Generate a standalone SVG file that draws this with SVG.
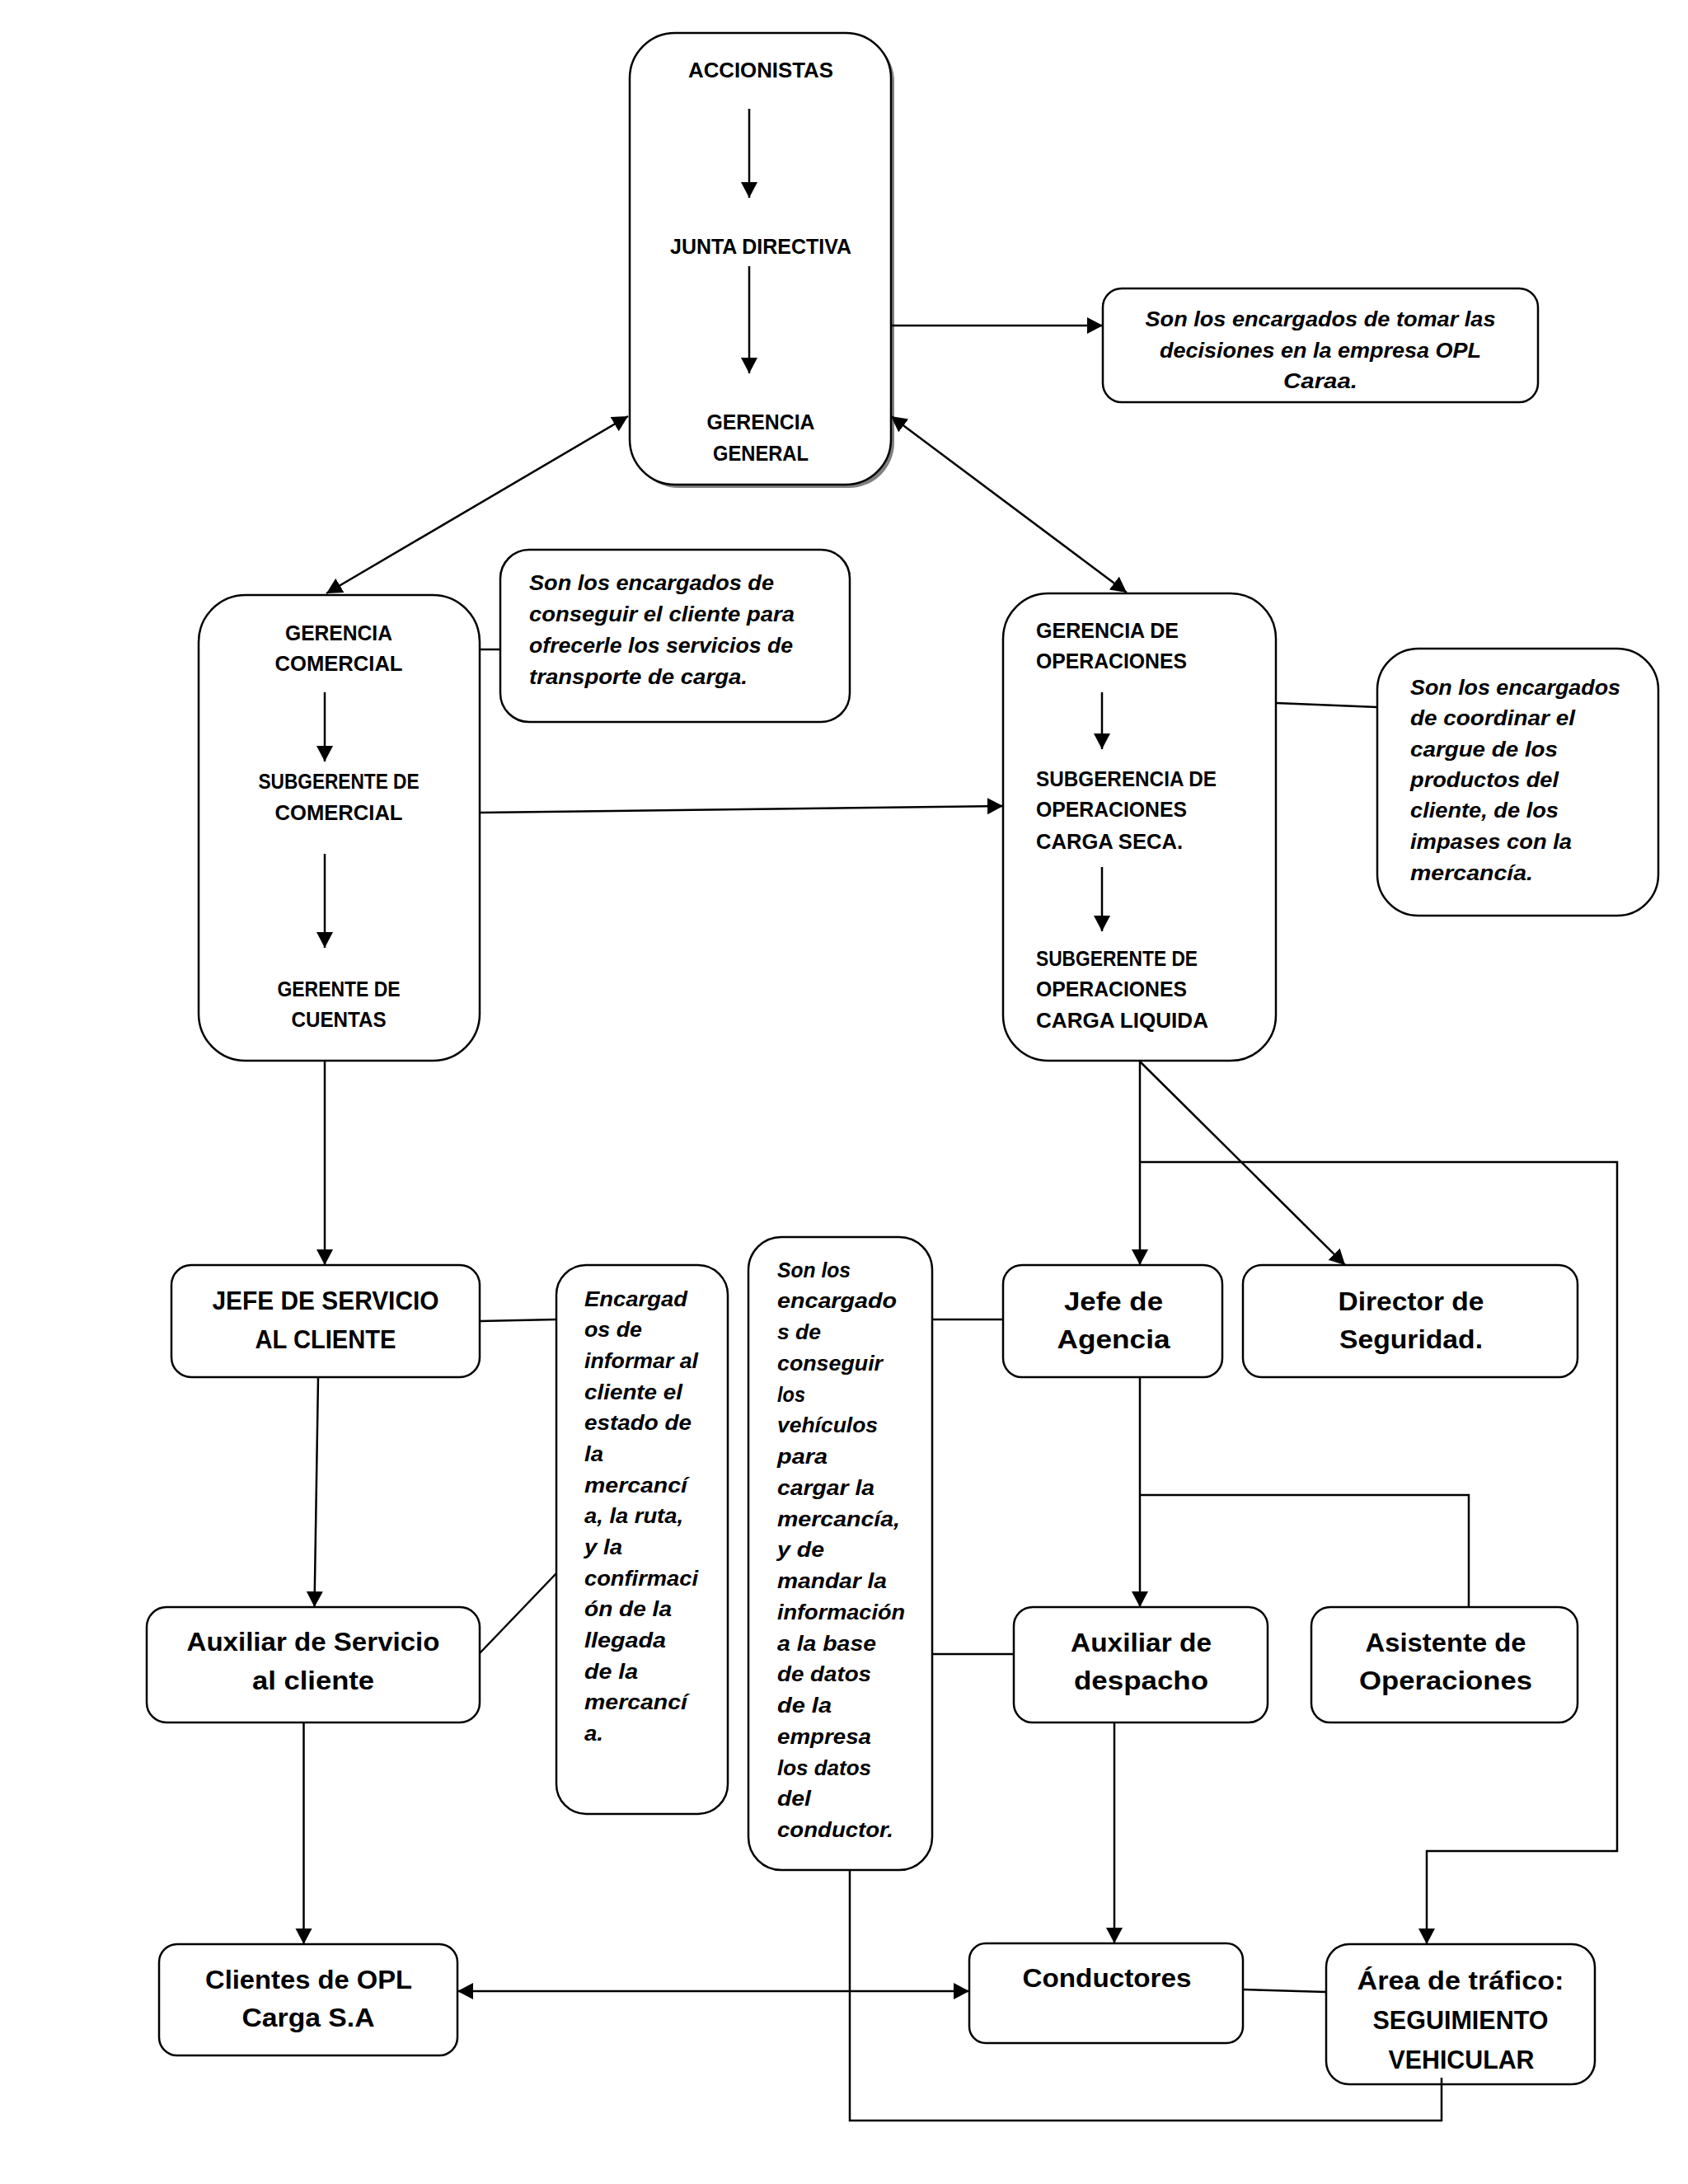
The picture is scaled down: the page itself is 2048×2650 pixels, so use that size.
<svg xmlns="http://www.w3.org/2000/svg" width="2048" height="2650" viewBox="0 0 2048 2650">
<style>
.box{fill:#fff;stroke:#000;stroke-width:2.5}
.sh{fill:#808080;stroke:none}
.t{font-family:"Liberation Sans",Arial,sans-serif;font-weight:bold;fill:#000}
.s{font-size:26px}
.l{font-size:32px}
.n{font-size:26px;font-style:italic}
.c{text-anchor:middle}
.conn{fill:none;stroke:#000;stroke-width:2.5}
.arr{marker-end:url(#ah)}
.darr{marker-start:url(#ah);marker-end:url(#ah)}
</style>
<defs>
<marker id="ah" markerUnits="userSpaceOnUse" markerWidth="21" markerHeight="21" refX="19" refY="10" orient="auto-start-reverse" viewBox="0 0 21 21">
<path d="M0,0 L19,10 L0,20 z" fill="#000"/>
</marker>
</defs>
<rect width="2048" height="2650" fill="#fff"/>

<g id="node-direccion">
<rect class="sh" x="768" y="44" width="317" height="548" rx="55"/>
<rect class="box" x="764" y="40" width="317" height="548" rx="55"/>
<text class="t s c" x="923" y="94" textLength="176" lengthAdjust="spacingAndGlyphs">ACCIONISTAS</text>
<text class="t s c" x="923" y="308" textLength="220" lengthAdjust="spacingAndGlyphs">JUNTA DIRECTIVA</text>
<text class="t s c" x="923" y="521" textLength="131" lengthAdjust="spacingAndGlyphs">GERENCIA</text>
<text class="t s c" x="923" y="559" textLength="116" lengthAdjust="spacingAndGlyphs">GENERAL</text>
</g>

<g id="note-decisiones">
<rect class="box" x="1338" y="350" width="528" height="138" rx="23"/>
<text class="t n c" x="1602" y="396" textLength="425" lengthAdjust="spacingAndGlyphs">Son los encargados de tomar las</text>
<text class="t n c" x="1602" y="434" textLength="390" lengthAdjust="spacingAndGlyphs">decisiones en la empresa OPL</text>
<text class="t n c" x="1602" y="471" textLength="90" lengthAdjust="spacingAndGlyphs">Caraa.</text>
</g>

<g id="node-comercial">
<rect class="box" x="241" y="722" width="341" height="565" rx="57"/>
<text class="t s c" x="411" y="777" textLength="130" lengthAdjust="spacingAndGlyphs">GERENCIA</text>
<text class="t s c" x="411" y="814" textLength="155" lengthAdjust="spacingAndGlyphs">COMERCIAL</text>
<text class="t s c" x="411" y="957" textLength="195" lengthAdjust="spacingAndGlyphs">SUBGERENTE DE</text>
<text class="t s c" x="411" y="995" textLength="155" lengthAdjust="spacingAndGlyphs">COMERCIAL</text>
<text class="t s c" x="411" y="1209" textLength="149" lengthAdjust="spacingAndGlyphs">GERENTE DE</text>
<text class="t s c" x="411" y="1246" textLength="115" lengthAdjust="spacingAndGlyphs">CUENTAS</text>
</g>

<g id="note-comercial">
<rect class="box" x="607" y="667" width="424" height="209" rx="35"/>
<text class="t n" x="642" y="716" textLength="297" lengthAdjust="spacingAndGlyphs">Son los encargados de</text>
<text class="t n" x="642" y="754" textLength="322" lengthAdjust="spacingAndGlyphs">conseguir el cliente para</text>
<text class="t n" x="642" y="792" textLength="320" lengthAdjust="spacingAndGlyphs">ofrecerle los servicios de</text>
<text class="t n" x="642" y="830" textLength="265" lengthAdjust="spacingAndGlyphs">transporte de carga.</text>
</g>

<g id="node-operaciones">
<rect class="box" x="1217" y="720" width="331" height="567" rx="55"/>
<text class="t s" x="1257" y="774" textLength="173" lengthAdjust="spacingAndGlyphs">GERENCIA DE</text>
<text class="t s" x="1257" y="811" textLength="183" lengthAdjust="spacingAndGlyphs">OPERACIONES</text>
<text class="t s" x="1257" y="954" textLength="219" lengthAdjust="spacingAndGlyphs">SUBGERENCIA DE</text>
<text class="t s" x="1257" y="991" textLength="183" lengthAdjust="spacingAndGlyphs">OPERACIONES</text>
<text class="t s" x="1257" y="1030" textLength="178" lengthAdjust="spacingAndGlyphs">CARGA SECA.</text>
<text class="t s" x="1257" y="1172" textLength="196" lengthAdjust="spacingAndGlyphs">SUBGERENTE DE</text>
<text class="t s" x="1257" y="1209" textLength="183" lengthAdjust="spacingAndGlyphs">OPERACIONES</text>
<text class="t s" x="1257" y="1247" textLength="209" lengthAdjust="spacingAndGlyphs">CARGA LIQUIDA</text>
</g>

<g id="note-operaciones">
<rect class="box" x="1671" y="787" width="341" height="324" rx="50"/>
<text class="t n" x="1711" y="843" textLength="255" lengthAdjust="spacingAndGlyphs">Son los encargados</text>
<text class="t n" x="1711" y="880" textLength="200" lengthAdjust="spacingAndGlyphs">de coordinar el</text>
<text class="t n" x="1711" y="917.5" textLength="179" lengthAdjust="spacingAndGlyphs">cargue de los</text>
<text class="t n" x="1711" y="955" textLength="180" lengthAdjust="spacingAndGlyphs">productos del</text>
<text class="t n" x="1711" y="992" textLength="180" lengthAdjust="spacingAndGlyphs">cliente, de los</text>
<text class="t n" x="1711" y="1030" textLength="196" lengthAdjust="spacingAndGlyphs">impases con la</text>
<text class="t n" x="1711" y="1068" textLength="149" lengthAdjust="spacingAndGlyphs">mercancía.</text>
</g>

<g id="node-jefe-servicio">
<rect class="box" x="208" y="1535" width="374" height="136" rx="24"/>
<text class="t l c" x="395" y="1588.5" textLength="275" lengthAdjust="spacingAndGlyphs">JEFE DE SERVICIO</text>
<text class="t l c" x="395" y="1635.5" textLength="171" lengthAdjust="spacingAndGlyphs">AL CLIENTE</text>
</g>

<g id="node-auxiliar-servicio">
<rect class="box" x="178" y="1950" width="404" height="140" rx="24"/>
<text class="t l c" x="380" y="2003" textLength="307" lengthAdjust="spacingAndGlyphs">Auxiliar de Servicio</text>
<text class="t l c" x="380" y="2050" textLength="148" lengthAdjust="spacingAndGlyphs">al cliente</text>
</g>

<g id="note-servicio">
<rect class="box" x="675" y="1535" width="208" height="666" rx="36"/>
<text class="t n" x="709" y="1584.5" textLength="125" lengthAdjust="spacingAndGlyphs">Encargad</text>
<text class="t n" x="709" y="1622" textLength="70" lengthAdjust="spacingAndGlyphs">os de</text>
<text class="t n" x="709" y="1660" textLength="138" lengthAdjust="spacingAndGlyphs">informar al</text>
<text class="t n" x="709" y="1697.5" textLength="119" lengthAdjust="spacingAndGlyphs">cliente el</text>
<text class="t n" x="709" y="1735" textLength="130" lengthAdjust="spacingAndGlyphs">estado de</text>
<text class="t n" x="709" y="1773" textLength="23" lengthAdjust="spacingAndGlyphs">la</text>
<text class="t n" x="709" y="1810.5" textLength="125" lengthAdjust="spacingAndGlyphs">mercancí</text>
<text class="t n" x="709" y="1848" textLength="120" lengthAdjust="spacingAndGlyphs">a, la ruta,</text>
<text class="t n" x="709" y="1886" textLength="46" lengthAdjust="spacingAndGlyphs">y la</text>
<text class="t n" x="709" y="1923.5" textLength="138" lengthAdjust="spacingAndGlyphs">confirmaci</text>
<text class="t n" x="709" y="1961" textLength="106" lengthAdjust="spacingAndGlyphs">ón de la</text>
<text class="t n" x="709" y="1999" textLength="99" lengthAdjust="spacingAndGlyphs">llegada</text>
<text class="t n" x="709" y="2036.5" textLength="65" lengthAdjust="spacingAndGlyphs">de la</text>
<text class="t n" x="709" y="2074" textLength="125" lengthAdjust="spacingAndGlyphs">mercancí</text>
<text class="t n" x="709" y="2111.5" textLength="23" lengthAdjust="spacingAndGlyphs">a.</text>
</g>

<g id="note-vehiculos">
<rect class="box" x="908" y="1501" width="223" height="768" rx="40"/>
<text class="t n" x="943" y="1549.5" textLength="89" lengthAdjust="spacingAndGlyphs">Son los</text>
<text class="t n" x="943" y="1587" textLength="145" lengthAdjust="spacingAndGlyphs">encargado</text>
<text class="t n" x="943" y="1625" textLength="53" lengthAdjust="spacingAndGlyphs">s de</text>
<text class="t n" x="943" y="1663" textLength="128" lengthAdjust="spacingAndGlyphs">conseguir</text>
<text class="t n" x="943" y="1700.5" textLength="34" lengthAdjust="spacingAndGlyphs">los</text>
<text class="t n" x="943" y="1738" textLength="122" lengthAdjust="spacingAndGlyphs">vehículos</text>
<text class="t n" x="943" y="1776" textLength="61" lengthAdjust="spacingAndGlyphs">para</text>
<text class="t n" x="943" y="1814" textLength="118" lengthAdjust="spacingAndGlyphs">cargar la</text>
<text class="t n" x="943" y="1851.5" textLength="149" lengthAdjust="spacingAndGlyphs">mercancía,</text>
<text class="t n" x="943" y="1889" textLength="57" lengthAdjust="spacingAndGlyphs">y de</text>
<text class="t n" x="943" y="1927" textLength="133" lengthAdjust="spacingAndGlyphs">mandar la</text>
<text class="t n" x="943" y="1965" textLength="155" lengthAdjust="spacingAndGlyphs">información</text>
<text class="t n" x="943" y="2002.5" textLength="120" lengthAdjust="spacingAndGlyphs">a la base</text>
<text class="t n" x="943" y="2040" textLength="114" lengthAdjust="spacingAndGlyphs">de datos</text>
<text class="t n" x="943" y="2078" textLength="66" lengthAdjust="spacingAndGlyphs">de la</text>
<text class="t n" x="943" y="2116" textLength="114" lengthAdjust="spacingAndGlyphs">empresa</text>
<text class="t n" x="943" y="2153.5" textLength="114" lengthAdjust="spacingAndGlyphs">los datos</text>
<text class="t n" x="943" y="2191" textLength="41" lengthAdjust="spacingAndGlyphs">del</text>
<text class="t n" x="943" y="2229" textLength="141" lengthAdjust="spacingAndGlyphs">conductor.</text>
</g>

<g id="node-jefe-agencia">
<rect class="box" x="1217" y="1535" width="266" height="136" rx="23"/>
<text class="t l c" x="1351" y="1589.5" textLength="120" lengthAdjust="spacingAndGlyphs">Jefe de</text>
<text class="t l c" x="1351" y="1635.5" textLength="137" lengthAdjust="spacingAndGlyphs">Agencia</text>
</g>

<g id="node-director">
<rect class="box" x="1508" y="1535" width="406" height="136" rx="23"/>
<text class="t l c" x="1712" y="1589.5" textLength="177" lengthAdjust="spacingAndGlyphs">Director de</text>
<text class="t l c" x="1712" y="1635.5" textLength="174" lengthAdjust="spacingAndGlyphs">Seguridad.</text>
</g>

<g id="node-auxiliar-despacho">
<rect class="box" x="1230" y="1950" width="308" height="140" rx="23"/>
<text class="t l c" x="1384.5" y="2004" textLength="171" lengthAdjust="spacingAndGlyphs">Auxiliar de</text>
<text class="t l c" x="1384.5" y="2050" textLength="163" lengthAdjust="spacingAndGlyphs">despacho</text>
</g>

<g id="node-asistente">
<rect class="box" x="1591" y="1950" width="323" height="140" rx="23"/>
<text class="t l c" x="1754" y="2004" textLength="195" lengthAdjust="spacingAndGlyphs">Asistente de</text>
<text class="t l c" x="1754" y="2050" textLength="210" lengthAdjust="spacingAndGlyphs">Operaciones</text>
</g>

<g id="node-clientes">
<rect class="box" x="193" y="2359" width="362" height="135" rx="22"/>
<text class="t l c" x="374.5" y="2413" textLength="251" lengthAdjust="spacingAndGlyphs">Clientes de OPL</text>
<text class="t l c" x="374" y="2459" textLength="161" lengthAdjust="spacingAndGlyphs">Carga S.A</text>
</g>

<g id="node-conductores">
<rect class="box" x="1176" y="2358" width="332" height="121" rx="20"/>
<text class="t l c" x="1343" y="2410.5" textLength="205" lengthAdjust="spacingAndGlyphs">Conductores</text>
</g>

<g id="node-trafico">
<rect class="box" x="1609" y="2359" width="326" height="170" rx="28"/>
<text class="t l c" x="1772" y="2413.5" textLength="251" lengthAdjust="spacingAndGlyphs">Área de tráfico:</text>
<text class="t l c" x="1772" y="2462" textLength="213" lengthAdjust="spacingAndGlyphs">SEGUIMIENTO</text>
<text class="t l c" x="1773" y="2509.5" textLength="177" lengthAdjust="spacingAndGlyphs">VEHICULAR</text>
</g>

<g id="connectors">
<line class="conn arr" x1="909" y1="132" x2="909" y2="240"/>
<line class="conn arr" x1="909" y1="323" x2="909" y2="453"/>
<line class="conn arr" x1="1081" y1="395" x2="1338" y2="395"/>
<line class="conn darr" x1="762" y1="505" x2="396" y2="720"/>
<line class="conn darr" x1="1081" y1="505" x2="1367" y2="719"/>
<line class="conn arr" x1="394" y1="840" x2="394" y2="924"/>
<line class="conn arr" x1="394" y1="1036" x2="394" y2="1150"/>
<line class="conn" x1="582" y1="788" x2="607" y2="788"/>
<line class="conn arr" x1="582" y1="986" x2="1217" y2="978"/>
<line class="conn arr" x1="1337" y1="840" x2="1337" y2="909"/>
<line class="conn arr" x1="1337" y1="1052" x2="1337" y2="1130"/>
<line class="conn" x1="1548" y1="853" x2="1671" y2="858"/>
<line class="conn arr" x1="394" y1="1288" x2="394" y2="1535"/>
<line class="conn arr" x1="1383" y1="1288" x2="1383" y2="1535"/>
<line class="conn arr" x1="1383" y1="1288" x2="1632" y2="1535"/>
<path class="conn arr" d="M1383,1410 H1962 V2246 H1731 V2359"/>
<line class="conn arr" x1="386" y1="1671" x2="381.5" y2="1950"/>
<line class="conn" x1="582" y1="1603" x2="675" y2="1601"/>
<line class="conn" x1="582" y1="2006" x2="675" y2="1909"/>
<line class="conn arr" x1="368.5" y1="2090" x2="368.5" y2="2359"/>
<line class="conn" x1="1131" y1="1601" x2="1217" y2="1601"/>
<line class="conn" x1="1131" y1="2007" x2="1230" y2="2007"/>
<line class="conn arr" x1="1383" y1="1671" x2="1383" y2="1950"/>
<path class="conn" d="M1383,1814 H1782 V1950"/>
<line class="conn arr" x1="1352" y1="2090" x2="1352" y2="2358"/>
<line class="conn darr" x1="555" y1="2416" x2="1176" y2="2416"/>
<line class="conn" x1="1508" y1="2414" x2="1609" y2="2417"/>
<path class="conn" d="M1031,2269 V2573 H1749 V2521"/>
</g>
</svg>
